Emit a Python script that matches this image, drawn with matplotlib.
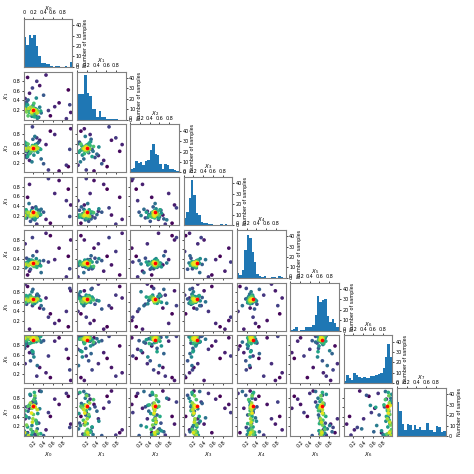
import matplotlib.pyplot as plt
import numpy as np

names = ["$X_0$", "$X_1$", "$X_2$", "$X_3$", "$X_4$", "$X_5$", "$X_6$", "$X_7$"]

# histogram counts per dimension, 20 bins on [0, 1]
counts = [
    [29, 21, 31, 28, 31, 20, 10, 4, 4, 3, 3, 1, 0, 1, 1, 0, 0, 1, 0, 5],
    [25, 25, 25, 43, 26, 23, 10, 10, 3, 8, 3, 3, 1, 1, 1, 1, 1, 0, 0, 0],
    [3, 4, 11, 9, 10, 7, 11, 12, 21, 27, 18, 17, 8, 3, 8, 7, 3, 3, 2, 1],
    [7, 13, 26, 43, 29, 12, 10, 3, 2, 2, 1, 1, 0, 0, 0, 1, 0, 1, 0, 0],
    [5, 3, 8, 27, 41, 38, 25, 15, 4, 2, 1, 2, 0, 0, 1, 1, 0, 2, 1, 0],
    [1, 2, 3, 0, 1, 1, 3, 3, 3, 5, 15, 33, 27, 29, 30, 14, 8, 11, 7, 3],
    [2, 8, 5, 3, 10, 8, 6, 5, 6, 5, 5, 7, 7, 8, 9, 10, 15, 25, 38, 25],
    [33, 24, 12, 6, 12, 11, 6, 11, 7, 9, 6, 6, 13, 6, 6, 4, 10, 9, 4, 5],
]

# evaluated points (order of evaluation -> colour)
x0 = [0.92, 0.55, 0.08, 0.73, 0.33, 0.97, 0.12, 0.46, 0.64, 0.03, 0.88, 0.27, 0.51, 0.18, 0.95,
      0.22, 0.06, 0.31, 0.14, 0.41, 0.02, 0.25, 0.19, 0.09, 0.36, 0.28, 0.11, 0.04, 0.23, 0.17,
      0.33, 0.07, 0.21, 0.26, 0.13, 0.01, 0.29, 0.16, 0.24, 0.08, 0.19, 0.35, 0.05, 0.22, 0.27,
      0.12, 0.18, 0.03, 0.25, 0.21, 0.15, 0.09, 0.3, 0.2, 0.23, 0.06, 0.17, 0.26, 0.14, 0.19,
      0.22, 0.1, 0.28, 0.18, 0.24, 0.02, 0.21, 0.16, 0.2, 0.19]
x1 = [0.62, 0.08, 0.88, 0.35, 0.71, 0.15, 0.55, 0.93, 0.27, 0.44, 0.02, 0.8, 0.19, 0.66, 0.31,
      0.12, 0.37, 0.05, 0.24, 0.51, 0.18, 0.09, 0.29, 0.41, 0.14, 0.03, 0.22, 0.33, 0.17, 0.07,
      0.26, 0.2, 0.11, 0.45, 0.19, 0.28, 0.04, 0.16, 0.23, 0.31, 0.1, 0.18, 0.25, 0.06, 0.21,
      0.15, 0.27, 0.19, 0.13, 0.34, 0.22, 0.08, 0.17, 0.24, 0.2, 0.16, 0.12, 0.19, 0.26, 0.21,
      0.18, 0.23, 0.14, 0.17, 0.2, 0.22, 0.19, 0.16, 0.21, 0.2]
x2 = [0.12, 0.86, 0.44, 0.03, 0.67, 0.91, 0.25, 0.58, 0.79, 0.35, 0.15, 0.72, 0.05, 0.95, 0.48,
      0.52, 0.31, 0.63, 0.41, 0.18, 0.55, 0.47, 0.69, 0.38, 0.28, 0.6, 0.51, 0.44, 0.75, 0.22,
      0.49, 0.57, 0.36, 0.53, 0.46, 0.64, 0.42, 0.5, 0.58, 0.33, 0.55, 0.48, 0.61, 0.45, 0.52,
      0.39, 0.56, 0.5, 0.47, 0.54, 0.43, 0.59, 0.51, 0.48, 0.53, 0.46, 0.5, 0.55, 0.49, 0.52,
      0.47, 0.51, 0.5, 0.53, 0.48, 0.5, 0.52, 0.49, 0.51, 0.5]
x3 = [0.75, 0.04, 0.58, 0.93, 0.21, 0.42, 0.85, 0.12, 0.66, 0.29, 0.51, 0.02, 0.97, 0.36, 0.18,
      0.24, 0.15, 0.31, 0.08, 0.27, 0.19, 0.38, 0.13, 0.22, 0.33, 0.17, 0.45, 0.26, 0.11, 0.2,
      0.29, 0.23, 0.16, 0.34, 0.18, 0.25, 0.21, 0.3, 0.14, 0.27, 0.19, 0.22, 0.32, 0.17, 0.24,
      0.2, 0.28, 0.15, 0.23, 0.26, 0.18, 0.21, 0.25, 0.19, 0.22, 0.27, 0.2, 0.24, 0.18, 0.23,
      0.21, 0.26, 0.19, 0.22, 0.25, 0.2, 0.23, 0.21, 0.24, 0.28]
x4 = [0.45, 0.88, 0.06, 0.62, 0.27, 0.79, 0.14, 0.93, 0.38, 0.71, 0.02, 0.55, 0.33, 0.84, 0.19,
      0.24, 0.41, 0.3, 0.18, 0.36, 0.22, 0.28, 0.46, 0.33, 0.11, 0.26, 0.38, 0.21, 0.31, 0.29,
      0.35, 0.24, 0.27, 0.4, 0.32, 0.23, 0.3, 0.37, 0.26, 0.33, 0.28, 0.25, 0.31, 0.34, 0.22,
      0.29, 0.36, 0.27, 0.32, 0.24, 0.3, 0.28, 0.33, 0.26, 0.31, 0.29, 0.27, 0.32, 0.3, 0.28,
      0.31, 0.26, 0.3, 0.29, 0.33, 0.28, 0.3, 0.31, 0.29, 0.32]
x5 = [0.08, 0.35, 0.92, 0.21, 0.47, 0.83, 0.03, 0.68, 0.15, 0.97, 0.4, 0.74, 0.28, 0.52, 0.88,
      0.61, 0.55, 0.72, 0.66, 0.45, 0.58, 0.69, 0.86, 0.63, 0.52, 0.76, 0.6, 0.67, 0.57, 0.81,
      0.64, 0.71, 0.56, 0.62, 0.74, 0.59, 0.68, 0.65, 0.61, 0.7, 0.57, 0.63, 0.73, 0.66, 0.6,
      0.69, 0.62, 0.58, 0.67, 0.64, 0.71, 0.61, 0.65, 0.68, 0.63, 0.66, 0.6, 0.64, 0.67, 0.62,
      0.65, 0.63, 0.66, 0.64, 0.62, 0.65, 0.63, 0.66, 0.64, 0.65]
x6 = [0.52, 0.12, 0.78, 0.95, 0.33, 0.06, 0.64, 0.22, 0.88, 0.41, 0.71, 0.15, 0.57, 0.98, 0.28,
      0.91, 0.84, 0.96, 0.47, 0.89, 0.73, 0.99, 0.62, 0.93, 0.86, 0.37, 0.92, 0.81, 0.97, 0.68,
      0.9, 0.94, 0.55, 0.87, 0.99, 0.78, 0.93, 0.85, 0.96, 0.91, 0.66, 0.98, 0.88, 0.92, 0.95,
      0.83, 0.97, 0.9, 0.94, 0.86, 0.99, 0.92, 0.89, 0.95, 0.93, 0.97, 0.91, 0.96, 0.94, 0.9,
      0.92, 0.98, 0.93, 0.95, 0.91, 0.94, 0.96, 0.92, 0.93, 0.9]
x7 = [0.83, 0.41, 0.07, 0.66, 0.94, 0.25, 0.58, 0.13, 0.77, 0.36, 0.89, 0.02, 0.49, 0.71, 0.18,
      0.04, 0.61, 0.27, 0.85, 0.01, 0.44, 0.68, 0.09, 0.52, 0.93, 0.15, 0.38, 0.03, 0.79, 0.22,
      0.57, 0.06, 0.64, 0.31, 0.87, 0.11, 0.47, 0.02, 0.72, 0.19, 0.6, 0.05, 0.41, 0.91, 0.26,
      0.65, 0.08, 0.53, 0.33, 0.76, 0.14, 0.62, 0.04, 0.45, 0.84, 0.23, 0.58, 0.1, 0.69, 0.36,
      0.63, 0.01, 0.55, 0.29, 0.6, 0.07, 0.64, 0.48, 0.61, 0.62]
best = [0.2, 0.2, 0.5, 0.28, 0.32, 0.65, 0.9, 0.62]

samples = np.array([x0, x1, x2, x3, x4, x5, x6, x7]).T
n_dims = samples.shape[1]
order = np.arange(len(samples))
edges = np.linspace(0, 1, 21)
ticks = [0.2, 0.4, 0.6, 0.8]
tlabels = ["0.2", "0.4", "0.6", "0.8"]

fig, axes = plt.subplots(n_dims, n_dims, figsize=(4.74, 4.74), dpi=100)
fig.subplots_adjust(left=0.05, right=0.94, bottom=0.08, top=0.96, wspace=0.1, hspace=0.1)

for i in range(n_dims):
    for j in range(n_dims):
        ax = axes[i, j]
        for s in ax.spines.values():
            s.set_color("0.5")
        ax.tick_params(labelsize=3.5, length=1.5, width=0.5, pad=1)
        if j > i:
            ax.axis("off")
        elif i == j:
            ax.bar(edges[:-1], counts[i], width=0.05, align="edge", color="#1f77b4")
            ax.set_xlim(0, 1)
            ax.set_ylim(0, 46)
            ax.xaxis.tick_top()
            ax.xaxis.set_label_position("top")
            ax.set_xticks([0, 0.2, 0.4, 0.6, 0.8])
            ax.set_xticklabels(["0", "0.2", "0.4", "0.6", "0.8"])
            ax.yaxis.tick_right()
            ax.yaxis.set_label_position("right")
            ax.set_yticks([0, 10, 20, 30, 40])
            ax.set_xlabel(names[i], fontsize=4, labelpad=0.5)
            ax.set_ylabel("Number of samples", fontsize=3.5, labelpad=1)
        else:
            ax.scatter(samples[:, j], samples[:, i], c=order, cmap="viridis", s=7, lw=0)
            ax.scatter(best[j], best[i], c="red", s=7, lw=0)
            ax.set_xlim(0, 1)
            ax.set_ylim(0, 1)
            ax.set_xticks(ticks)
            ax.set_yticks(ticks)
            if i == n_dims - 1:
                ax.set_xticklabels(tlabels, rotation=45)
                ax.set_xlabel(names[j], fontsize=4, labelpad=1)
            else:
                ax.set_xticklabels([])
            if j == 0:
                ax.set_yticklabels(tlabels)
                ax.set_ylabel(names[i], fontsize=4, labelpad=1)
            else:
                ax.set_yticklabels([])

fig.savefig("out.png", dpi=100)
